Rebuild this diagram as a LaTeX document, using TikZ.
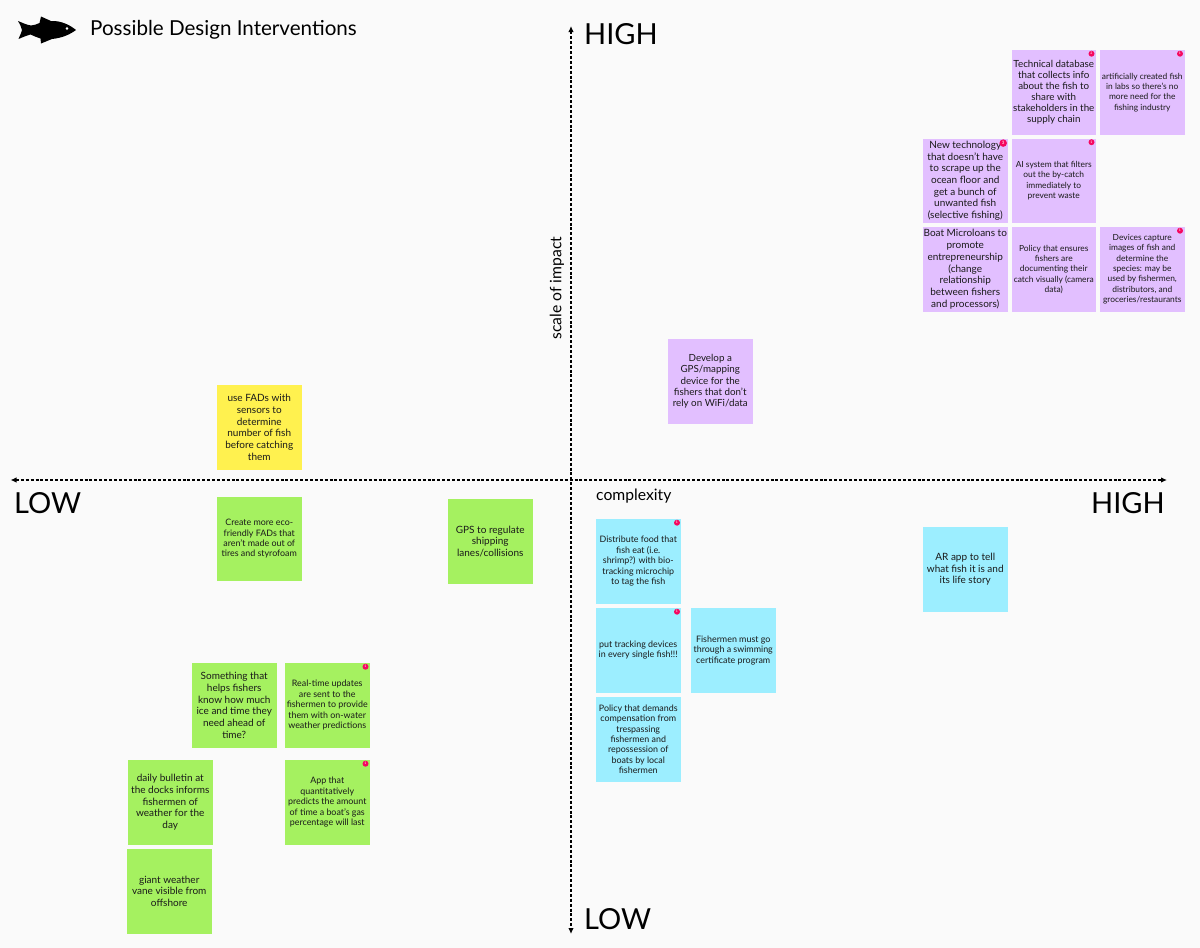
\documentclass[tikz,border=0pt]{standalone}
\usepackage{fontspec}
\setmainfont{Lato}
\usetikzlibrary{calc,arrows.meta}
\definecolor{bgc}{HTML}{FAFAFA}
\definecolor{purp}{HTML}{E2BFFF}
\definecolor{bluec}{HTML}{9CEEFF}
\definecolor{greenc}{HTML}{A5F160}
\definecolor{yellowc}{HTML}{FFF14F}
\definecolor{pinkc}{HTML}{F5085F}
\definecolor{inkc}{HTML}{1A1A1A}
\tikzset{
  sticky/.style={anchor=north west,minimum width=84.5pt,minimum height=84.5pt,inner sep=0pt,outer sep=0pt,align=center,text=inkc},
  big/.style={font=\fontsize{10}{11.7}\selectfont},
  bigtight/.style={font=\fontsize{9.8}{11.1}\selectfont},
  small/.style={font=\fontsize{8.9}{10.4}\selectfont},
  tiny/.style={font=\fontsize{8.4}{10.3}\selectfont},
  pu/.style={sticky,fill=purp},
  bl/.style={sticky,fill=bluec},
  gr/.style={sticky,fill=greenc},
  ye/.style={sticky,fill=yellowc},
  badge/.style={circle,fill=pinkc,text=white,inner sep=0pt,minimum size=6pt,font=\fontsize{3.5}{4}\selectfont},
  axisline/.style={draw=black,line width=1.2pt,dash pattern=on 3pt off 1.9pt,{Latex[length=6pt,width=5.5pt]}-{Latex[length=6pt,width=5.5pt]}},
  axlabel/.style={font=\fontsize{29}{30}\selectfont,inner sep=0pt,text=black},
  sublabel/.style={font=\fontsize{15.7}{16}\selectfont,inner sep=0pt,text=black}
}
\begin{document}
\begin{tikzpicture}[x=1pt,y=-1pt]
\path[use as bounding box,fill=bgc] (0,0) rectangle (1200,948);
% axes
\coordinate (vtop) at (571,26);
\coordinate (vbot) at (571,934);
\coordinate (hleft) at (10.5,480);
\coordinate (hright) at (1167,480);
\draw[axisline] (vtop) -- (vbot);
\draw[axisline] (hleft) -- (hright);
% fish
\fill[black] (18,21) .. controls (23,23) and (27,25) .. (31,25.5) .. controls (34,25) and (37,24.5) .. (39.5,23) -- (41,16.5) -- (51,21)
  .. controls (61,20.5) and (70,25) .. (76,30) .. controls (70,34.5) and (62,38) .. (52,39) -- (41,43.5) -- (40.5,38.5)
  .. controls (37,37.5) and (34,36) .. (30.5,34.5) .. controls (27,35.5) and (23,37) .. (18.5,39) .. controls (20,35) and (21.5,33) .. (22,30) .. controls (21.5,27) and (20,24.5) .. (18,21) -- cycle;
\fill[white] (67,28.5) ellipse [x radius=1.3,y radius=1.6];
% title
\node[anchor=west,inner sep=0pt,font=\fontsize{20.6}{21}\selectfont,text=black] (title) at (90,30) {Possible Design Interventions};
% axis labels
\node[axlabel,anchor=west] (hightop) at (584,34) {HIGH};
\node[axlabel,anchor=west] (lowleft) at (14,503) {LOW};
\node[axlabel,anchor=east] (highright) at (1165,503) {HIGH};
\node[axlabel,anchor=west] (lowbot) at (584,919) {LOW};
\node[sublabel,rotate=90] (scale) at (557,288) {scale of impact};
\node[sublabel,anchor=west] (complexity) at (596,496) {complexity};
% purple
\node[pu,bigtight] (p1) at (1011.5,50) {Technical database\\that collects info\\about the fish to\\share with\\stakeholders in the\\supply chain};
\node[pu,tiny] (p2) at (1100,50) {artificially created fish\\in labs so there's no\\more need for the\\fishing industry};
\node[pu,big] (p3) at (923,138.5) {New technology\\that doesn't have\\to scrape up the\\ocean floor and\\get a bunch of\\unwanted fish\\(selective fishing)};
\node[pu,tiny] (p4) at (1011.5,138.5) {AI system that filters\\out the by-catch\\immediately to\\prevent waste};
\node[pu,big] (p5) at (923,227) {Boat Microloans to\\promote\\entrepreneurship\\(change\\relationship\\between fishers\\and processors)};
\node[pu,tiny] (p6) at (1011.5,227) {Policy that ensures\\fishers are\\documenting their\\catch visually (camera\\data)};
\node[pu,tiny] (p7) at (1100,227) {Devices capture\\images of fish and\\determine the\\species: may be\\used by fishermen,\\distributors, and\\groceries/restaurants};
\node[pu,bigtight] (p8) at (668,339) {Develop a\\GPS/mapping\\device for the\\fishers that don't\\rely on WiFi/data};
% yellow
\node[ye,big] (y1) at (217,385) {use FADs with\\sensors to\\determine\\number of fish\\before catching\\them};
% green
\node[gr,small] (g1) at (217,496.5) {Create more eco-\\friendly FADs that\\aren't made out of\\tires and styrofoam};
\node[gr,big] (g2) at (448,499) {GPS to regulate\\shipping\\lanes/collisions};
\node[gr,big] (g3) at (192,663) {Something that\\helps fishers\\know how much\\ice and time they\\need ahead of\\time?};
\node[gr,small] (g4) at (285,663) {Real-time updates\\are sent to the\\fishermen to provide\\them with on-water\\weather predictions};
\node[gr,big] (g5) at (128,760) {daily bulletin at\\the docks informs\\fishermen of\\weather for the\\day};
\node[gr,small] (g6) at (285,760) {App that\\quantitatively\\predicts the amount\\of time a boat's gas\\percentage will last};
\node[gr,big] (g7) at (127,849) {giant weather\\vane visible from\\offshore};
% blue
\node[bl,small] (b1) at (596,519) {Distribute food that\\fish eat (i.e.\\shrimp?) with bio-\\tracking microchip\\to tag the fish};
\node[bl,small] (b2) at (596,608) {put tracking devices\\in every single fish!!!};
\node[bl,small] (b3) at (691,608) {Fishermen must go\\through a swimming\\certificate program};
\node[bl,small] (b4) at (596,697) {Policy that demands\\compensation from\\trespassing\\fishermen and\\repossession of\\boats by local\\fishermen};
\node[bl,big] (b5) at (923,527) {AR app to tell\\what fish it is and\\its life story};
% badges
\node[badge] (bp1) at ($(p1.north east)+(-4.5,3.7)$) {2};
\node[badge] (bp2) at ($(p2.north east)+(-4.5,3.7)$) {1};
\node[badge,minimum size=7.5pt,font=\fontsize{4.5}{5}\selectfont] (bp3) at ($(p3.north east)+(-4.3,4.6)$) {3};
\node[badge] (bp4) at ($(p4.north east)+(-4.5,3.7)$) {1};
\node[badge] (bp7) at ($(p7.north east)+(-4.5,3.7)$) {1};
\node[badge] (bg4) at ($(g4.north east)+(-4,3.7)$) {1};
\node[badge] (bg6) at ($(g6.north east)+(-4,3.7)$) {1};
\node[badge] (bb1) at ($(b1.north east)+(-3.5,3.7)$) {1};
\node[badge] (bb2) at ($(b2.north east)+(-3.5,3.7)$) {1};
\end{tikzpicture}
\end{document}
